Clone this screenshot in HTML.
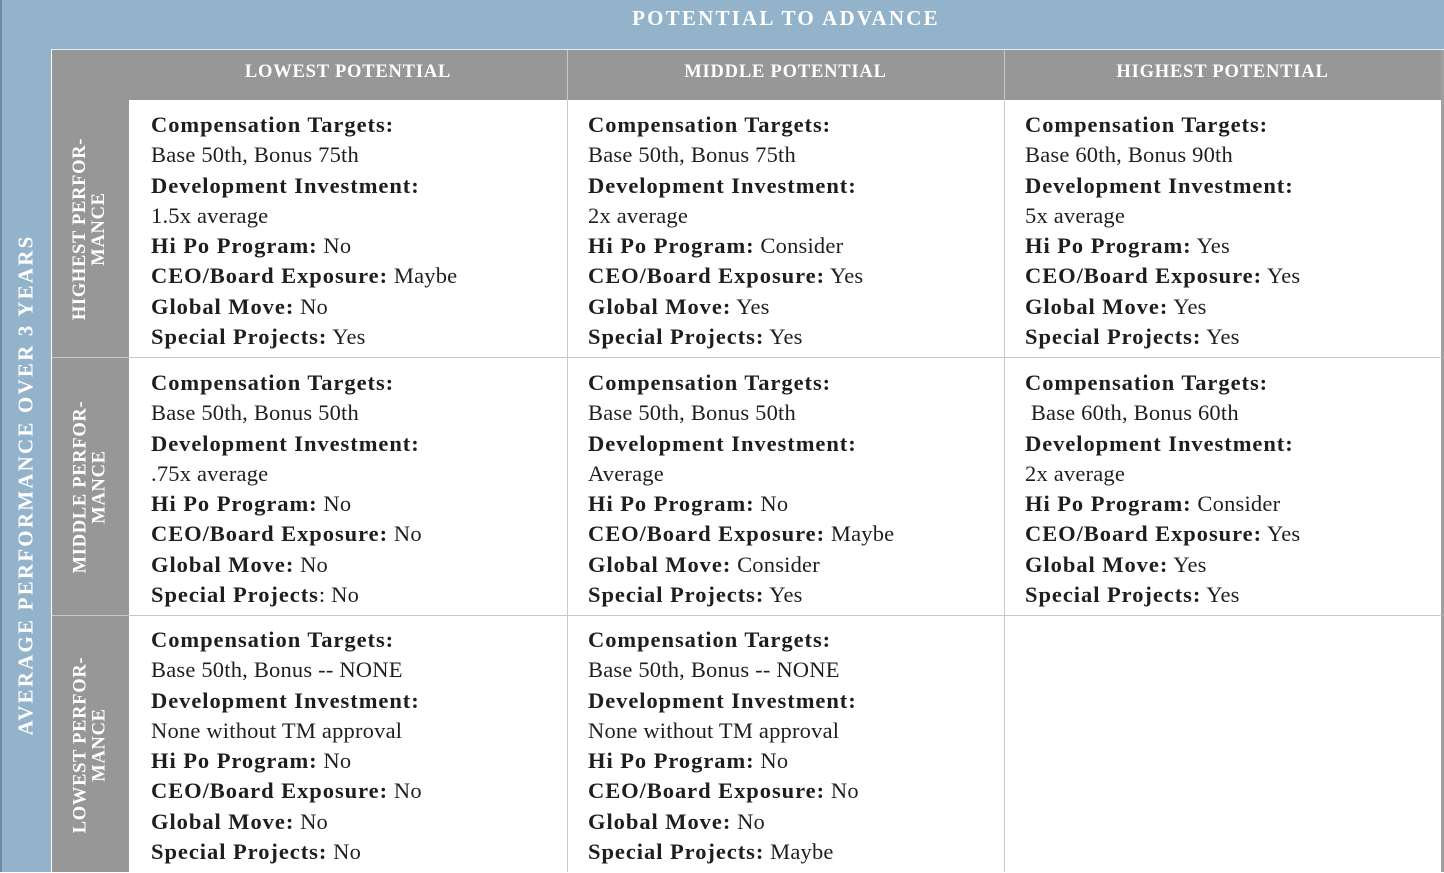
<!DOCTYPE html>
<html><head><meta charset="utf-8"><style>
*{margin:0;padding:0;box-sizing:border-box}
body{width:1444px;height:872px;overflow:hidden;background:#fff;position:relative;font-family:"Liberation Serif",serif}
.abs{position:absolute}
.blue{background:#93b3cb}
.gray{background:#979797}
.hdr{color:#fff;font-weight:bold;font-size:18.5px;text-align:center;letter-spacing:0.8px;line-height:44px;top:50px;height:50px}
.cell{position:absolute;padding:10px 0 0 22px;font-size:22.5px;line-height:30.3px;color:#1e1e1e;white-space:nowrap;letter-spacing:0.2px}
.cell b{font-weight:bold;letter-spacing:0.95px}
.vl{position:absolute;background:#c8c8c8}
.rl{position:absolute;left:52px;width:76px;height:257px;display:flex;align-items:center;justify-content:center}
.rl div{transform:rotate(-90deg);color:#fff;font-weight:bold;font-size:18.5px;line-height:19px;text-align:center;white-space:nowrap;letter-spacing:0.7px}
</style></head><body>
<div class="abs blue" style="left:0;top:0;width:1444px;height:49px"></div>
<div class="abs blue" style="left:0;top:0;width:51px;height:872px"></div>
<div class="abs" style="left:0;top:0;width:2px;height:872px;background:#6e8ea6"></div>
<div class="abs" style="left:0;top:6px;width:1444px;text-align:center;padding-left:128px;color:#fff;font-weight:bold;font-size:21px;letter-spacing:2.2px">POTENTIAL TO ADVANCE</div>
<div class="abs" style="left:26px;top:485px;width:0;height:0"><div style="position:absolute;transform:translate(-50%,-50%) rotate(-90deg);color:#fff;font-weight:bold;font-size:21px;letter-spacing:2.2px;white-space:nowrap">AVERAGE PERFORMANCE OVER 3 YEARS</div></div>
<div class="abs" style="left:51px;top:49px;width:1393px;height:1px;background:#e8eef3"></div>
<div class="abs gray" style="left:52px;top:50px;width:1390px;height:50px"></div>
<div class="abs gray" style="left:52px;top:50px;width:77px;height:822px"></div>
<div class="abs" style="left:1441px;top:50px;width:3px;height:822px;background:#a0a0a0"></div>
<div class="abs hdr" style="left:129px;width:438px">LOWEST POTENTIAL</div>
<div class="abs hdr" style="left:567px;width:437px">MIDDLE POTENTIAL</div>
<div class="abs hdr" style="left:1004px;width:437px">HIGHEST POTENTIAL</div>
<div class="vl" style="left:567px;top:50px;width:1px;height:822px"></div>
<div class="vl" style="left:1004px;top:50px;width:1px;height:822px"></div>
<div class="vl" style="left:52px;top:357px;width:1390px;height:1px"></div>
<div class="vl" style="left:52px;top:615px;width:1390px;height:1px"></div>
<div class="rl" style="top:100px"><div>HIGHEST PERFOR-<br>MANCE</div></div>
<div class="rl" style="top:358px"><div>MIDDLE PERFOR-<br>MANCE</div></div>
<div class="rl" style="top:616px"><div>LOWEST PERFOR-<br>MANCE</div></div>

<div class="cell" style="left:129px;top:100px"><b>Compensation Targets:</b><br>Base 50th, Bonus 75th<br><b>Development Investment:</b><br>1.5x average<br><b>Hi Po Program:</b> No<br><b>CEO/Board Exposure:</b> Maybe<br><b>Global Move:</b> No<br><b>Special Projects:</b> Yes</div>
<div class="cell" style="left:566px;top:100px"><b>Compensation Targets:</b><br>Base 50th, Bonus 75th<br><b>Development Investment:</b><br>2x average<br><b>Hi Po Program:</b> Consider<br><b>CEO/Board Exposure:</b> Yes<br><b>Global Move:</b> Yes<br><b>Special Projects:</b> Yes</div>
<div class="cell" style="left:1003px;top:100px"><b>Compensation Targets:</b><br>Base 60th, Bonus 90th<br><b>Development Investment:</b><br>5x average<br><b>Hi Po Program:</b> Yes<br><b>CEO/Board Exposure:</b> Yes<br><b>Global Move:</b> Yes<br><b>Special Projects:</b> Yes</div>

<div class="cell" style="left:129px;top:358px"><b>Compensation Targets:</b><br>Base 50th, Bonus 50th<br><b>Development Investment:</b><br>.75x average<br><b>Hi Po Program:</b> No<br><b>CEO/Board Exposure:</b> No<br><b>Global Move:</b> No<br><b>Special Projects</b>: No</div>
<div class="cell" style="left:566px;top:358px"><b>Compensation Targets:</b><br>Base 50th, Bonus 50th<br><b>Development Investment:</b><br>Average<br><b>Hi Po Program:</b> No<br><b>CEO/Board Exposure:</b> Maybe<br><b>Global Move:</b> Consider<br><b>Special Projects:</b> Yes</div>
<div class="cell" style="left:1003px;top:358px"><b>Compensation Targets:</b><br>&nbsp;Base 60th, Bonus 60th<br><b>Development Investment:</b><br>2x average<br><b>Hi Po Program:</b> Consider<br><b>CEO/Board Exposure:</b> Yes<br><b>Global Move:</b> Yes<br><b>Special Projects:</b> Yes</div>

<div class="cell" style="left:129px;top:615px"><b>Compensation Targets:</b><br>Base 50th, Bonus -- NONE<br><b>Development Investment:</b><br>None without TM approval<br><b>Hi Po Program:</b> No<br><b>CEO/Board Exposure:</b> No<br><b>Global Move:</b> No<br><b>Special Projects:</b> No</div>
<div class="cell" style="left:566px;top:615px"><b>Compensation Targets:</b><br>Base 50th, Bonus -- NONE<br><b>Development Investment:</b><br>None without TM approval<br><b>Hi Po Program:</b> No<br><b>CEO/Board Exposure:</b> No<br><b>Global Move:</b> No<br><b>Special Projects:</b> Maybe</div>
</body></html>
